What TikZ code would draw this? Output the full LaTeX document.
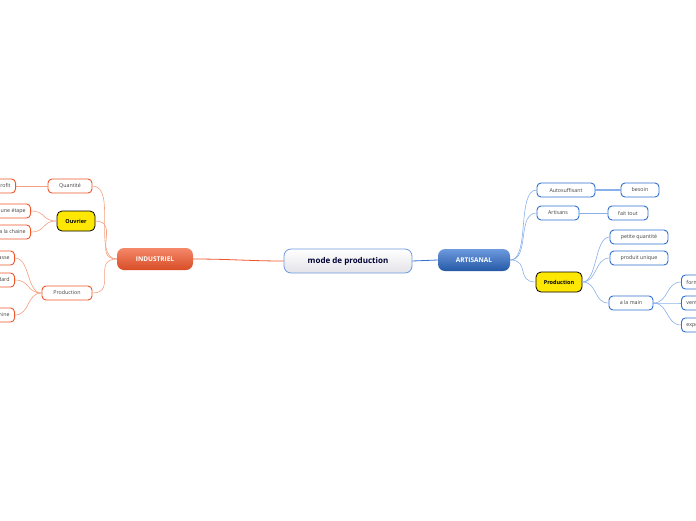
\documentclass[tikz,border=0pt]{standalone}
\usepackage{fontspec}
\setmainfont{Open Sans}
\usetikzlibrary{shapes.geometric}
\definecolor{org}{HTML}{F0552A}
\definecolor{orgl}{HTML}{F4A080}
\definecolor{blu}{HTML}{2E6FD0}
\definecolor{blul}{HTML}{8AB0EA}
\begin{document}
\begin{tikzpicture}[x=1pt,y=-1pt,
 every node/.style={font=\fontsize{5.3}{6}\selectfont, inner sep=0pt},
 ob/.style={draw=org,line width=0.9pt,rounded corners=4pt,fill=white,minimum height=14pt,text=black!75},
 bb/.style={draw=blu,line width=0.9pt,rounded corners=4pt,fill=white,minimum height=14pt,text=black!75},
 edge/.style={inner xsep=5pt},
 yel/.style={draw=black,line width=0.8pt,fill=yellow!90!orange,rounded corners=5pt,minimum height=20pt,font=\fontsize{5.5}{6}\bfseries\selectfont},
 ol/.style={orgl,line width=0.6pt},
 bl/.style={blul,line width=0.6pt}]
\useasboundingbox (0,0) rectangle (696,520);
% central
\node[draw=blu!70,line width=0.8pt,rounded corners=7pt,top color=white,bottom color=blue!10!gray!20,minimum width=128pt,minimum height=24pt,text=blue!20!black,font=\fontsize{8}{9}\bfseries\selectfont] (c) at (348,261) {mode de production};
\node[rounded corners=7pt,top color=org!70,bottom color=org!90!black,minimum width=76pt,minimum height=22pt,text=white,font=\fontsize{6.5}{7}\bfseries\selectfont] (ind) at (155,259) {INDUSTRIEL};
\node[rounded corners=7pt,top color=blu!70,bottom color=blu!80!black,minimum width=72pt,minimum height=22pt,text=white,font=\fontsize{6.5}{7}\bfseries\selectfont] (art) at (474,260) {ARTISANAL};
\draw[org,line width=0.8pt] (c.west) .. controls (250,261) and (230,259) .. (ind.east);
\draw[blu,line width=0.8pt] (c.east) -- (art.west);
% left
\node[ob,minimum width=44pt] (q) at (70,186) {Quantité};
\node[ob,edge,anchor=east] (pr) at (16,186) {profit};
\node[yel,minimum width=38pt] (ou) at (76,221) {Ouvrier};
\node[ob,edge,anchor=east] (et) at (31,211) {une étape};
\node[ob,edge,anchor=east] (ch) at (31,232) {travail a la chaine};
\node[ob,minimum width=50pt] (lp) at (67,293) {Production};
\node[ob,edge,anchor=east] (m1) at (15,258) {en masse};
\node[ob,edge,anchor=east] (m2) at (15,280) {standard};
\node[ob,edge,anchor=east] (m3) at (15,315) {machine};
\foreach \n in {q,ou,lp}{\draw[ol] (ind.west) .. controls +(-25,0) and +(25,0) .. (\n.east);}
\draw[ol] (q.west) -- (pr.east);
\foreach \n in {et,ch}{\draw[ol] (ou.west) .. controls +(-15,0) and +(15,0) .. (\n.east);}
\foreach \n in {m1,m2,m3}{\draw[ol] (lp.west) .. controls +(-15,0) and +(15,0) .. (\n.east);}
% right
\node[bb,minimum width=58pt] (au) at (566,190) {Autosuffisant};
\node[bb,minimum width=38pt] (be) at (640,190) {besoin};
\node[bb,minimum width=42pt] (ar) at (558,213) {Artisans};
\node[bb,minimum width=40pt] (ft) at (628,213) {fait tout};
\node[yel,minimum width=46pt] (rp) at (559,282) {Production};
\node[bb,minimum width=58pt] (pq) at (639,237) {petite quantité};
\node[bb,minimum width=58pt] (pu) at (639,258) {produit unique};
\node[bb,minimum width=44pt] (am) at (631,303) {a la main};
\node[bb,edge,anchor=west] (r1) at (681,282) {forme};
\node[bb,edge,anchor=west] (r2) at (681,303) {vente};
\node[bb,edge,anchor=west] (r3) at (681,325) {expérience};
\foreach \n in {au,ar,rp}{\draw[bl] (art.east) .. controls +(20,0) and +(-20,0) .. (\n.west);}
\draw[bl,line width=1.2pt] (au.east) -- (be.west);
\draw[bl] (ar.east) -- (ft.west);
\foreach \n in {pq,pu,am}{\draw[bl] (rp.east) .. controls +(15,0) and +(-15,0) .. (\n.west);}
\foreach \n in {r1,r2,r3}{\draw[bl] (am.east) .. controls +(15,0) and +(-15,0) .. (\n.west);}
\end{tikzpicture}
\end{document}
